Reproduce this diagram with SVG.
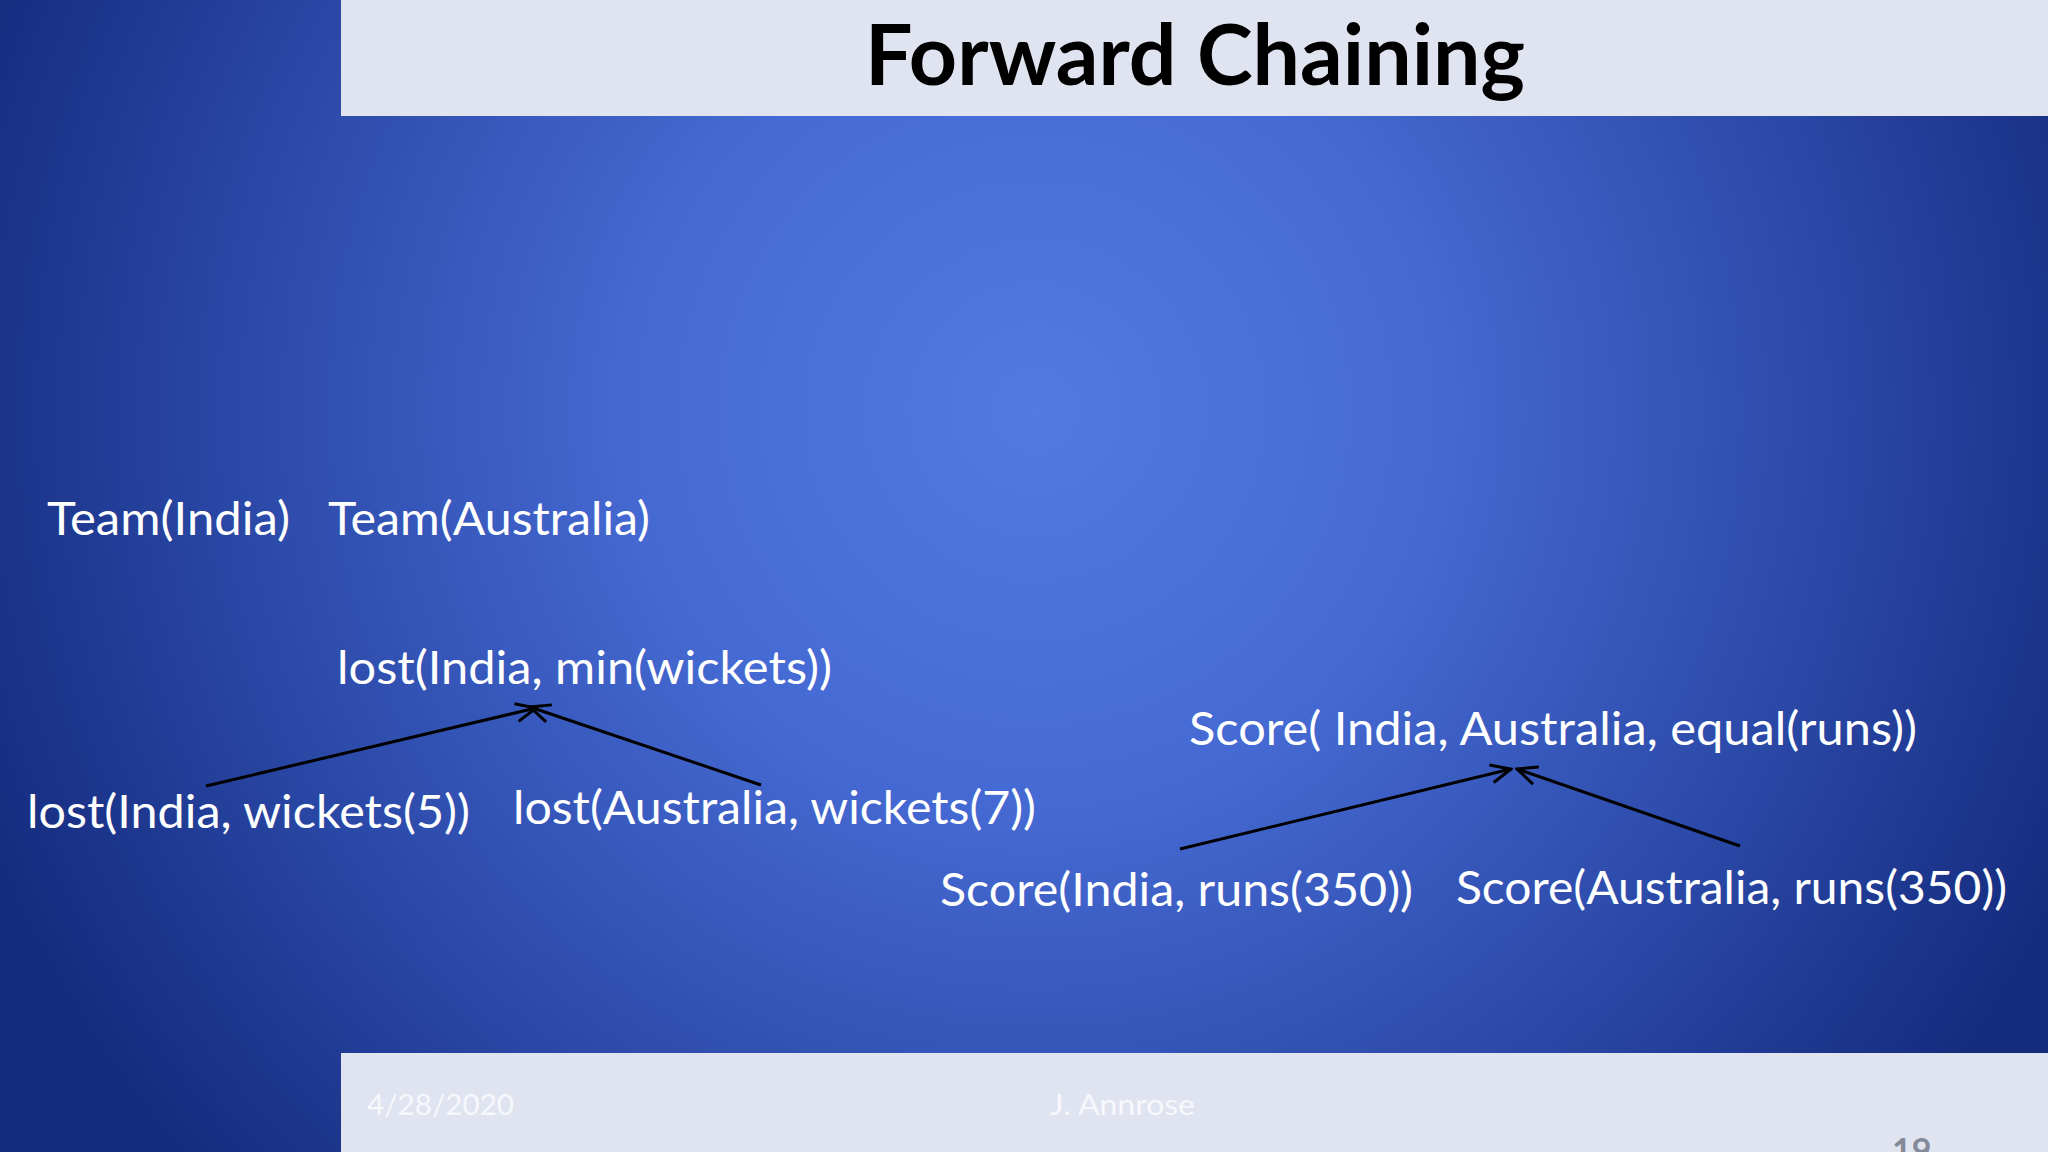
<svg xmlns="http://www.w3.org/2000/svg" width="2048" height="1152" viewBox="0 0 2048 1152">
  <defs>
    <radialGradient id="bg" cx="1035" cy="410" r="1150" gradientUnits="userSpaceOnUse">
      <stop offset="0" stop-color="#517ae3"/>
      <stop offset="0.35" stop-color="#4569d2"/>
      <stop offset="0.7" stop-color="#2a48a6"/>
      <stop offset="1" stop-color="#142a7c"/>
    </radialGradient>
    <marker id="arr" viewBox="0 0 24 24" markerWidth="24" markerHeight="24" refX="22" refY="12" orient="auto" markerUnits="userSpaceOnUse">
      <path d="M2,3 L22,12 L2,21" fill="none" stroke="#000" stroke-width="3"/>
    </marker>
    <style>
      .lbl { font-family: Lato, "Open Sans", "Liberation Sans", sans-serif; font-size: 47px; fill: #ffffff; }
      .edge { stroke: #000; stroke-width: 3; fill: none; marker-end: url(#arr); }
      .bar { fill: #e0e4f0; }
      .foot { font-family: Lato, "Open Sans", "Liberation Sans", sans-serif; font-size: 29px; fill: #f7f8fc; }
    </style>
  </defs>

  <rect x="0" y="0" width="2048" height="1152" fill="url(#bg)"/>

  <g id="title-bar">
    <rect class="bar" x="341" y="0" width="1707" height="116"/>
    <text x="865" y="85" font-family="Lato, 'Open Sans', 'Liberation Sans', sans-serif" font-weight="bold" font-size="85" fill="#000" textLength="660" lengthAdjust="spacingAndGlyphs">Forward Chaining</text>
  </g>

  <g id="footer">
    <rect class="bar" x="341" y="1053" width="1707" height="99"/>
    <text class="foot" x="367" y="1115" textLength="147" lengthAdjust="spacingAndGlyphs">4/28/2020</text>
    <text class="foot" x="1050" y="1115" textLength="145" lengthAdjust="spacingAndGlyphs">J. Annrose</text>
    <text x="1892" y="1163" font-family="Lato, 'Open Sans', 'Liberation Sans', sans-serif" font-weight="bold" font-size="34" fill="#858a98">19</text>
  </g>

  <g id="connectors">
    <line class="edge" x1="206" y1="786" x2="536" y2="708"/>
    <line class="edge" x1="761" y1="785" x2="530" y2="707"/>
    <line class="edge" x1="1180" y1="849" x2="1511" y2="769"/>
    <line class="edge" x1="1740" y1="846" x2="1517" y2="769"/>
  </g>

  <g id="team-india"><text class="lbl" x="47" y="535" textLength="243" lengthAdjust="spacingAndGlyphs">Team(India)</text></g>
  <g id="team-australia"><text class="lbl" x="328" y="535" textLength="322" lengthAdjust="spacingAndGlyphs">Team(Australia)</text></g>
  <g id="lost-india-min"><text class="lbl" x="337" y="684" textLength="495" lengthAdjust="spacingAndGlyphs">lost(India, min(wickets))</text></g>
  <g id="lost-india-5"><text class="lbl" x="27" y="828" textLength="443" lengthAdjust="spacingAndGlyphs">lost(India, wickets(5))</text></g>
  <g id="lost-australia-7"><text class="lbl" x="513" y="824" textLength="523" lengthAdjust="spacingAndGlyphs">lost(Australia, wickets(7))</text></g>
  <g id="score-equal"><text class="lbl" x="1189" y="745" textLength="728" lengthAdjust="spacingAndGlyphs">Score( India, Australia, equal(runs))</text></g>
  <g id="score-india"><text class="lbl" x="940" y="906" textLength="473" lengthAdjust="spacingAndGlyphs">Score(India, runs(350))</text></g>
  <g id="score-australia"><text class="lbl" x="1456" y="904" textLength="551" lengthAdjust="spacingAndGlyphs">Score(Australia, runs(350))</text></g>
</svg>
